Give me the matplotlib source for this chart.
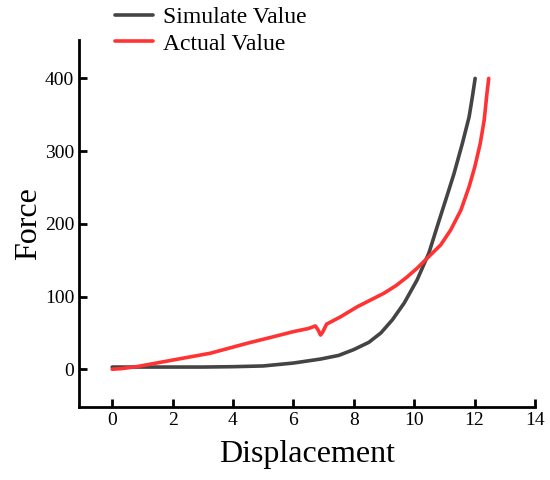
import matplotlib.pyplot as plt

# =====================================================
# DATA
# =====================================================
sim_disp = [0, 1, 2, 3, 4, 5, 6, 6.9, 7.5, 8.0, 8.5, 8.9, 9.28, 9.67,
            10.1, 10.49, 10.83, 11.1, 11.32, 11.6, 11.82, 11.93, 12.02]
sim_force = [3, 3, 3, 3, 3.5, 4.5, 8.5, 14, 19, 27, 37, 50, 68, 91,
             123, 160, 205, 240, 269, 311, 347, 375, 400]

act_disp = [0, 0.3, 0.82, 2.03, 3.25, 4.47, 5.35, 6.0, 6.5, 6.73, 6.82,
            6.9, 6.97, 7.1, 7.56, 8.12, 9.0, 9.4, 9.77, 10.1, 10.44,
            10.88, 11.21, 11.55, 11.82, 12.01, 12.19, 12.32, 12.41, 12.47]
act_force = [0, 0.8, 3.6, 12.8, 22, 35.7, 44.8, 51.7, 56, 59.5, 54,
             47, 51, 62, 72, 86, 104.5, 115, 127, 139, 153,
             171, 191.5, 219, 251, 278.5, 310.6, 342.7, 379, 400]

x_ticks = [0, 2, 4, 6, 8, 10, 12, 14]
y_ticks = [0, 100, 200, 300, 400]

plt.rcParams['font.family'] = ['Liberation Serif', 'DejaVu Serif']

# =====================================================
# PLOT
# =====================================================
fig = plt.figure(figsize=(5.5, 4.8), dpi=100)
ax = fig.add_axes([0.1436, 0.152, 0.829, 0.765])

ax.plot(sim_disp, sim_force, color='#444444', lw=2.6,
        solid_capstyle='round', solid_joinstyle='round',
        label='Simulate Value')
ax.plot(act_disp, act_force, color='#ff3333', lw=2.6,
        solid_capstyle='round', solid_joinstyle='round',
        label='Actual Value')

ax.set_xlim(-1.1, 14)
ax.set_ylim(-52, 453)
ax.set_xticks(x_ticks)
ax.set_yticks(y_ticks)

for side in ['top', 'right']:
    ax.spines[side].set_visible(False)
for side in ['left', 'bottom']:
    ax.spines[side].set_linewidth(2)

ax.tick_params(direction='in', length=6, width=2, labelsize=14)
ax.set_xlabel('Displacement', fontsize=23, labelpad=8)
ax.set_ylabel('Force', fontsize=23, labelpad=1)

ax.legend(loc='upper left', bbox_to_anchor=(0.079, 1.09), frameon=False,
          fontsize=17, handlelength=1.6, handletextpad=0.45,
          labelspacing=0.2, borderaxespad=0, borderpad=0)

plt.savefig('out.png', dpi=100)
